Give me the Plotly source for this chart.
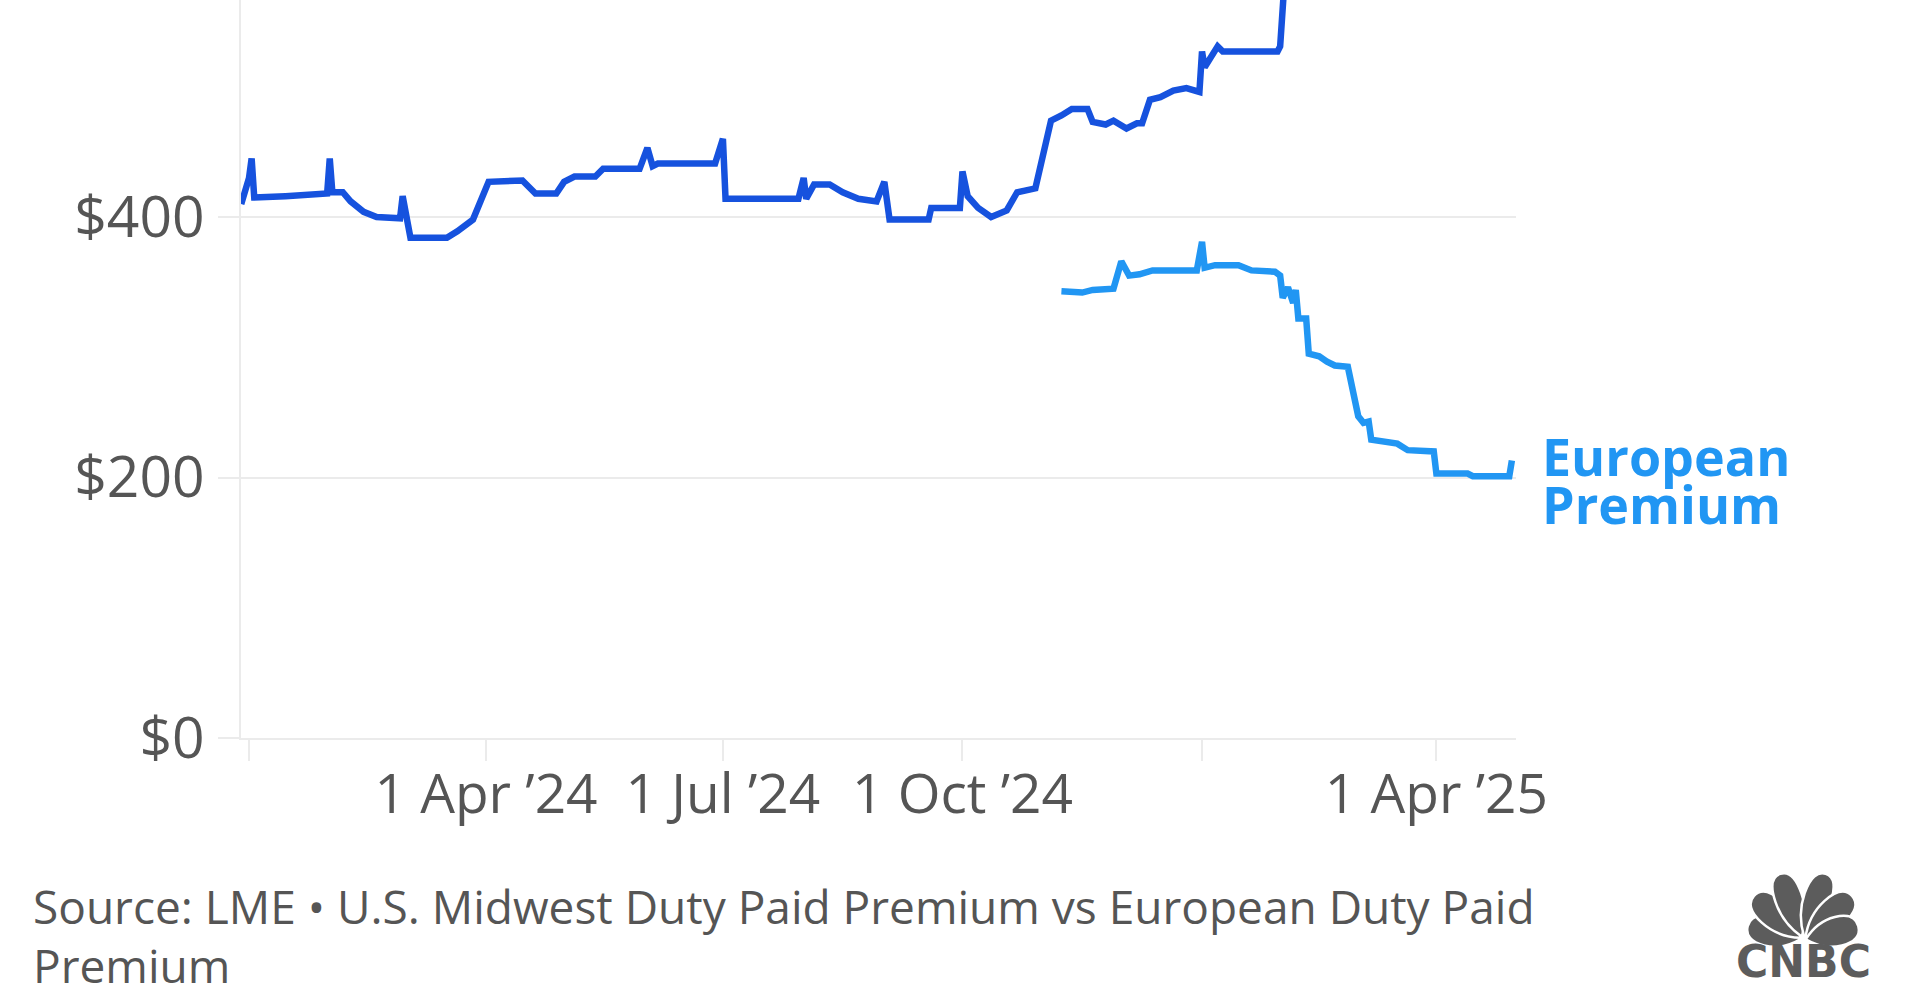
import math
import plotly.graph_objects as go

# ---------------- data ----------------
us_dates = [
    "2023-12-29", "2024-01-01", "2024-01-02", "2024-01-03", "2024-01-15", "2024-01-31",
    "2024-02-01", "2024-02-02", "2024-02-06", "2024-02-09", "2024-02-14", "2024-02-19",
    "2024-02-28", "2024-02-29", "2024-03-03", "2024-03-17", "2024-03-21", "2024-03-27",
    "2024-04-02", "2024-04-15", "2024-04-20", "2024-04-28", "2024-05-01", "2024-05-05",
    "2024-05-13", "2024-05-16", "2024-05-30", "2024-06-02", "2024-06-04", "2024-06-06",
    "2024-06-28", "2024-07-01", "2024-07-02", "2024-07-30", "2024-08-01", "2024-08-02",
    "2024-08-05", "2024-08-11", "2024-08-16", "2024-08-22", "2024-08-29", "2024-09-01",
    "2024-09-03", "2024-09-18", "2024-09-19", "2024-09-30", "2024-10-01", "2024-10-03",
    "2024-10-07", "2024-10-12", "2024-10-18", "2024-10-22", "2024-10-29", "2024-10-31",
    "2024-11-04", "2024-11-08", "2024-11-12", "2024-11-18", "2024-11-20", "2024-11-25",
    "2024-11-28", "2024-12-03", "2024-12-07", "2024-12-09", "2024-12-12", "2024-12-16",
    "2024-12-21", "2024-12-26", "2024-12-31", "2025-01-01", "2025-01-02", "2025-01-07",
    "2025-01-09", "2025-01-30", "2025-01-31", "2025-02-03", "2025-02-10", "2025-03-01",
    "2025-04-30",
]
us_values = [
    410, 430, 445, 415, 416, 418,
    445, 419, 419, 412, 404, 400,
    399, 416, 384, 384, 389, 398,
    427, 428, 418, 418, 427, 431,
    431, 437, 437, 453, 439, 441,
    441, 460, 414, 414, 430, 414,
    425, 425, 419, 414, 412, 427,
    398, 398, 407, 407, 435, 416,
    407, 400, 405, 419, 422, 439,
    474, 478, 483, 483, 473, 471,
    474, 468, 472, 472, 490, 492,
    497, 499, 496, 527, 515, 531,
    527, 527, 531, 620, 700, 800,
    950,
]

eu_dates = [
    "2024-11-08", "2024-11-16", "2024-11-20", "2024-11-28", "2024-12-01", "2024-12-04",
    "2024-12-08", "2024-12-13", "2024-12-30", "2025-01-01", "2025-01-02", "2025-01-06",
    "2025-01-15", "2025-01-20", "2025-01-29", "2025-01-31", "2025-02-01", "2025-02-03",
    "2025-02-05", "2025-02-06", "2025-02-07", "2025-02-10", "2025-02-11", "2025-02-15",
    "2025-02-18", "2025-02-21", "2025-02-26", "2025-03-02", "2025-03-04", "2025-03-06",
    "2025-03-07", "2025-03-12", "2025-03-17", "2025-03-21", "2025-03-31", "2025-04-01",
    "2025-04-13", "2025-04-15", "2025-04-29", "2025-04-30",
]
eu_values = [
    343, 342, 344, 345, 366, 355,
    356, 359, 359, 381, 361, 363,
    363, 359, 358, 355, 338, 346,
    334, 344, 322, 322, 295, 293,
    289, 286, 285, 247, 242, 243,
    229, 228, 226, 221, 220, 203,
    203, 201, 201, 213,
]

y_tickvals = [0, 200, 400]
y_ticktext = ["$0", "$200", "$400"]
x_tickvals = ["2024-01-01", "2024-04-01", "2024-07-01", "2024-10-01", "2025-01-01", "2025-04-01"]
x_ticktext = ["", "1 Apr \u201924", "1 Jul \u201924", "1 Oct \u201924", "", "1 Apr \u201925"]

series_label = ["European", "Premium"]
source_lines = ["Source: LME \u2022 U.S. Midwest Duty Paid Premium vs European Duty Paid", "Premium"]

# ---------------- styling ----------------
US_COLOR = "#1652de"
EU_COLOR = "#2196f3"
GRID = "#ebebeb"
TEXT = "#555555"
FONT = "Open Sans"

W, H = 1910, 1000
PL, PR, PT, PB = 241, 1516, 0, 738  # plot area in pixels


def px(X):
    return (X - PL) / (PR - PL)


def py(Y):
    return (PB - Y) / (PB - PT)


fig = go.Figure()
fig.add_trace(go.Scatter(x=us_dates, y=us_values, mode="lines",
                         line=dict(color=US_COLOR, width=6.5), hoverinfo="skip",
                         name="U.S. Midwest Premium"))
fig.add_trace(go.Scatter(x=eu_dates, y=eu_values, mode="lines",
                         line=dict(color=EU_COLOR, width=6.5), hoverinfo="skip",
                         name="European Premium"))

fig.update_layout(
    width=W, height=H,
    margin=dict(l=PL, r=W - PR, t=PT, b=H - PB),
    paper_bgcolor="white", plot_bgcolor="white",
    showlegend=False,
    font=dict(family=FONT, color=TEXT),
)

fig.update_yaxes(
    range=[0, 566.6], tickvals=y_tickvals, ticktext=y_ticktext,
    showgrid=True, gridcolor=GRID, gridwidth=2, zeroline=False,
    showline=True, linecolor=GRID, linewidth=2,
    ticks="outside", ticklen=21, tickwidth=2, tickcolor=GRID,
    ticklabelstandoff=2,
    tickfont=dict(size=57, color=TEXT, family=FONT),
)
fig.update_xaxes(
    type="date", range=["2023-12-28 22:00", "2025-05-01 14:00"],
    tickvals=x_tickvals, ticktext=x_ticktext,
    showgrid=False, zeroline=False,
    showline=True, linecolor=GRID, linewidth=2,
    ticks="outside", ticklen=21, tickwidth=2, tickcolor=GRID,
    ticklabelstandoff=-14,
    tickfont=dict(size=55, color=TEXT, family=FONT),
)

annotations = []
# series label
annotations.append(dict(x=px(1540), y=py(455), xref="paper", yref="paper", text="<b>%s</b>" % series_label[0],
                        showarrow=False, xanchor="left", yanchor="middle",
                        font=dict(size=52, color=EU_COLOR, family=FONT)))
annotations.append(dict(x=px(1540), y=py(504), xref="paper", yref="paper", text="<b>%s</b>" % series_label[1],
                        showarrow=False, xanchor="left", yanchor="middle",
                        font=dict(size=52, color=EU_COLOR, family=FONT)))
# source
annotations.append(dict(x=px(31), y=py(906), xref="paper", yref="paper", text=source_lines[0],
                        showarrow=False, xanchor="left", yanchor="middle",
                        font=dict(size=46, color=TEXT, family=FONT)))
annotations.append(dict(x=px(31), y=py(965), xref="paper", yref="paper", text=source_lines[1],
                        showarrow=False, xanchor="left", yanchor="middle",
                        font=dict(size=46, color=TEXT, family=FONT)))
# logo text
annotations.append(dict(x=px(1803), y=py(962), xref="paper", yref="paper", text="<b>CNBC</b>",
                        showarrow=False, xanchor="center", yanchor="middle",
                        font=dict(size=44, color="#5c5c5c", family="DejaVu Sans")))
fig.update_layout(annotations=annotations)

# peacock feathers (logo), built in pixel space then converted to paper space
BX, BY = 1803, 940
feathers = [(-76, 57, 14), (-48, 66, 14), (-19, 70, 13), (19, 70, 13), (48, 66, 14), (76, 57, 14)]
shapes = []
for ang, L, Wd in feathers:
    a = math.radians(ang)
    ux, uy = math.sin(a), -math.cos(a)
    vx, vy = -uy, ux

    def P(s, t):
        X = BX + s * L * ux + t * Wd * vx
        Y = BY + s * L * uy + t * Wd * vy
        return "%.5f,%.5f" % (px(X), py(Y))

    path = ("M %s C %s %s %s C %s %s %s C %s %s %s C %s %s %s Z" % (
        P(0.05, 0),
        P(0.2, 0.6), P(0.38, 1.05), P(0.64, 1.05),
        P(0.88, 1.05), P(1.0, 0.65), P(1.0, 0),
        P(1.0, -0.65), P(0.88, -1.05), P(0.64, -1.05),
        P(0.38, -1.05), P(0.2, -0.6), P(0.05, 0),
    ))
    shapes.append(dict(type="path", xref="paper", yref="paper", path=path,
                       fillcolor="#5c5c5c", line=dict(color="white", width=2.5), layer="above"))
fig.update_layout(shapes=shapes)

fig.write_html("out.html", config={"displayModeBar": False},
               post_script="document.body.style.margin='0';document.body.style.padding='0';")
